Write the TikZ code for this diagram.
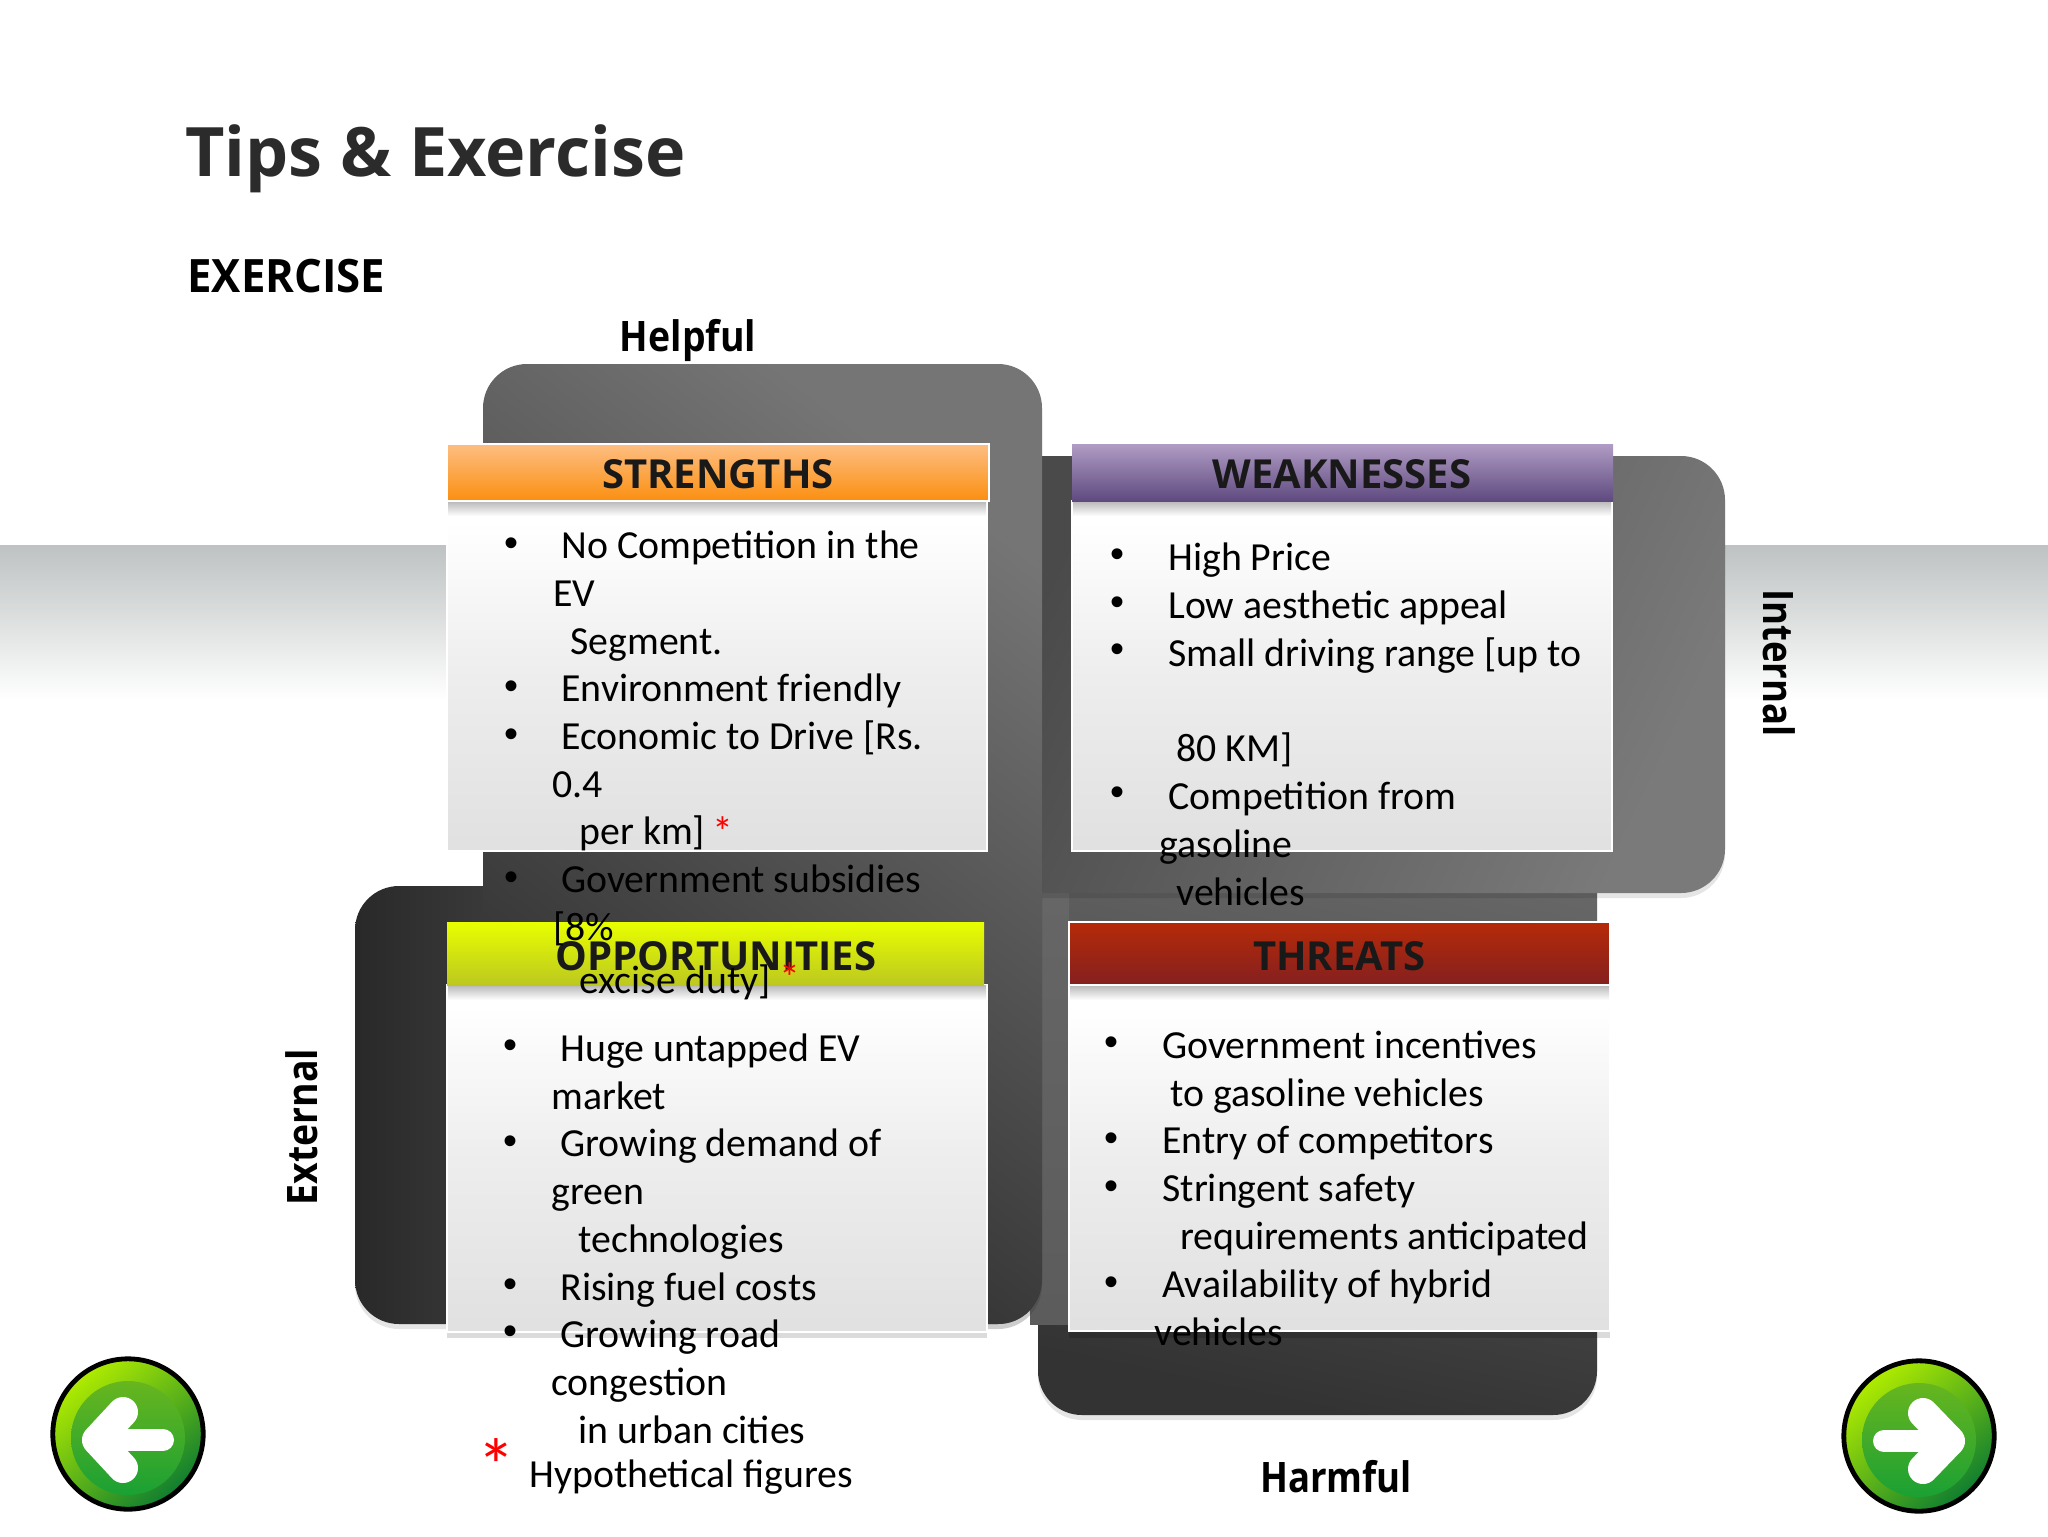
\documentclass[tikz,border=0pt]{standalone}
\usepackage{fontspec}
\setmainfont{Carlito}
\newfontfamily\headfont{Open Sans}
\newfontfamily\bulfont{Liberation Sans}
\usetikzlibrary{shadows}
\definecolor{titlecol}{HTML}{2B2B2B}
\definecolor{bandc}{RGB}{190,194,194}
\definecolor{btnlight}{RGB}{176,236,0}
\definecolor{btndark}{RGB}{14,125,48}
\definecolor{btninT}{RGB}{104,182,30}
\definecolor{btninB}{RGB}{26,160,52}
\pgfdeclareverticalshading{cardbody}{100bp}{
 color(0bp)=(black!15); color(25bp)=(black!12); color(50bp)=(black!7); color(72bp)=(white); color(100bp)=(white)}
\pgfdeclareverticalshading{bandshade}{100bp}{
 color(0bp)=(white); color(25bp)=(white); color(75bp)=(bandc); color(100bp)=(bandc)}
\tikzset{
 panel/.style={rounded corners=22pt, drop shadow={shadow xshift=0pt,shadow yshift=-2.5pt,opacity=.1,fill=black}},
 cardb/.style={shading=cardbody, draw=white, line width=.8pt},
 cardh/.style={line width=.8pt},
 hshadow/.style={top color=black!28, bottom color=white},
 bshadow/.style={fill=black, opacity=.14},
 body/.style={inner sep=0pt, anchor=base west, font=\fontsize{19.9}{24}\selectfont, text=black},
 bul/.style={inner sep=0pt, anchor=center, font=\bulfont\fontsize{20}{24}\selectfont, text=black},
 star/.style={inner sep=0pt, anchor=center, text=red, font=\fontsize{21}{24}\selectfont},
 headt/.style={inner sep=0pt, anchor=base, font=\headfont\bfseries\fontsize{20}{24}\selectfont, text=black!90},
 side/.style={inner sep=0pt, anchor=base, font=\headfont\bfseries\fontsize{21}{24}\selectfont, text=black},
 btnring/.style={draw=black, line width=2.4pt},
 arrowpart/.style={draw=white, line cap=round, line join=round},
}
\begin{document}
\begin{tikzpicture}[x=0.5pt,y=-0.5pt]
\useasboundingbox (0,0) rectangle (2048,1536);
\fill[white] (0,0) rectangle (2048,1536);
% band
\shade[shading=bandshade] (0,545) rectangle (2048,700);
% panels
\shade[panel, top color=black!56, bottom color=black!80, shading angle=-12] (1038,728) rectangle (1597,1415);
\shade[panel, left color=black!84, right color=black!50] (355,886) rectangle (1042,1324);
\shade[top color=black!60, bottom color=black!64] (1030,893) rectangle (1069,1324);
\shade[panel, top color=black!71, bottom color=black!52, shading angle=65] (990,456) rectangle (1725,893);
\shade[panel, top color=black!54, bottom color=black!84, shading angle=-37] (483,364) rectangle (1042,1324);
% cards
\shade[cardb] (447,501) rectangle (987,851);
\shade[hshadow] (448,501) rectangle (986,516);
\node[cardh, draw=white, top color={rgb,255:red,253;green,190;blue,130}, bottom color={rgb,255:red,251;green,143;blue,16}, minimum width=271pt, minimum height=28.5pt, inner sep=0pt] (shead) at (718,472.5) {};
\shade[cardb] (1072,501) rectangle (1612,851);
\shade[hshadow] (1073,501) rectangle (1611,516);
\node[cardh, top color={rgb,255:red,176;green,156;blue,196}, bottom color={rgb,255:red,95;green,74;blue,128}, minimum width=270.5pt, minimum height=28.5pt, inner sep=0pt] (whead) at (1342.5,472.5) {};
\fill[bshadow] (447,1332) rectangle (987,1338);
\shade[cardb] (447,985) rectangle (987,1332);
\shade[hshadow] (448,985) rectangle (986,1000);
\node[cardh, top color={rgb,255:red,232;green,255;blue,0}, bottom color={rgb,255:red,188;green,200;blue,32}, minimum width=268.5pt, minimum height=31.5pt, inner sep=0pt] (ohead) at (715.5,953.5) {};
\fill[bshadow] (1069,1331) rectangle (1610,1338);
\shade[cardb] (1069,985) rectangle (1610,1331);
\shade[hshadow] (1070,985) rectangle (1609,1000);
\node[cardh, draw=white, top color={rgb,255:red,182;green,42;blue,8}, bottom color={rgb,255:red,132;green,32;blue,32}, minimum width=270.5pt, minimum height=31.5pt, inner sep=0pt] (thead) at (1339.5,953.5) {};
% titles
\node[inner sep=0pt, anchor=base west, font=\headfont\bfseries\fontsize{34.1}{40}\selectfont, text=titlecol] (title) at (185,176) {Tips \& Exercise};
\node[inner sep=0pt, anchor=base west, font=\headfont\bfseries\fontsize{23}{26}\selectfont, text=black] (exer) at (187,292) {\scalebox{.95}[1]{EXERCISE}};
\node[side] (helpful) at (688,351) {\scalebox{.89}[1]{Helpful}};
\node[side] (harmful) at (1336,1492) {\scalebox{.87}[1]{Harmful}};
\node[side, rotate=90] (external) at (317,1127) {\scalebox{.89}[1]{External}};
\node[side, rotate=-90] (internal) at (1763,663) {\scalebox{.87}[1]{Internal}};
% headers
\node[headt] (st) at (718,488) {STRENGTHS};
\node[headt] (wt) at (1342,488) {WEAKNESSES};
\node[headt] (ot) at (716,970) {OPPORTUNITIES};
\node[headt] (tt) at (1339.5,970) {THREATS};
% strengths
\foreach \nm/\xx/\yy/\tx in {a/561/558/No Competition in the, b/553/606/EV, c/570/654/Segment., d/561/701/Environment friendly, e/561/749/Economic to Drive [Rs., f/552/797/0.4, g/579/844/per km], h/561/892/Government subsidies, i/553/940/[8\%, j/579/993/excise duty]}
  \node[body] (s\nm) at (\xx,\yy) {\tx};
\foreach \nm/\yy in {a/547,b/690,c/738,d/881}
  \node[bul] (sb\nm) at (511,\yy) {•};
\node[star] (sstar1) at (723,832) {*};
\node[star] (sstar2) at (790,978) {*};
% weaknesses
\foreach \nm/\xx/\yy/\tx in {a/1168/570/High Price, b/1168/618/Low aesthetic appeal, c/1168/666/Small driving range [up to, d/1176/761/80 KM], e/1168/809/Competition from, f/1159/857/gasoline, g/1176/905/vehicles}
  \node[body] (w\nm) at (\xx,\yy) {\tx};
\foreach \nm/\yy in {a/558,b/606,c/653,d/796}
  \node[bul] (wb\nm) at (1117,\yy) {•};
% opportunities
\foreach \nm/\xx/\yy/\tx in {a/560/1061/Huge untapped EV, b/551/1109/market, c/560/1156/Growing demand of, d/551/1204/green, e/578/1252/technologies, f/560/1300/Rising fuel costs, g/560/1347/Growing road, h/551/1395/congestion, i/578/1443/in urban cities}
  \node[body] (o\nm) at (\xx,\yy) {\tx};
\foreach \nm/\yy in {a/1049,b/1145,c/1288,d/1335}
  \node[bul] (ob\nm) at (510,\yy) {•};
% threats
\foreach \nm/\xx/\yy/\tx in {a/1162/1058/Government incentives, b/1170/1106/to gasoline vehicles, c/1162/1153/Entry of competitors, d/1162/1201/Stringent safety, e/1180/1249/requirements anticipated, f/1162/1297/Availability of hybrid, g/1154/1345/vehicles}
  \node[body] (t\nm) at (\xx,\yy) {\tx};
\foreach \nm/\yy in {a/1046,b/1142,c/1190,d/1286}
  \node[bul] (tb\nm) at (1111,\yy) {•};
% footnote
\node[star, font=\fontsize{38}{40}\selectfont] (bigstar) at (496,1465) {*};
\node[body] (hyp) at (529,1487) {Hypothetical figures};
% left button
\shade[btnring, top color=btnlight, bottom color=btndark, shading angle=40] (128,1434) circle (37.6pt);
\shade[top color=btninT, bottom color=btninB] (128,1438) circle (28.5pt);
\draw[arrowpart, line width=11pt] (95,1440) -- (163,1440);
\draw[arrowpart, line width=15pt] (123,1412) -- (97,1440) -- (123,1468);
% right button
\shade[btnring, top color=btnlight, bottom color=btndark, shading angle=40] (1919,1436) circle (37.6pt);
\shade[top color=btninT, bottom color=btninB] (1919,1440) circle (28.5pt);
\draw[arrowpart, line width=11pt] (1884,1441) -- (1950,1441);
\draw[arrowpart, line width=15pt] (1923,1413) -- (1950,1441) -- (1923,1469);
\end{tikzpicture}
\end{document}
